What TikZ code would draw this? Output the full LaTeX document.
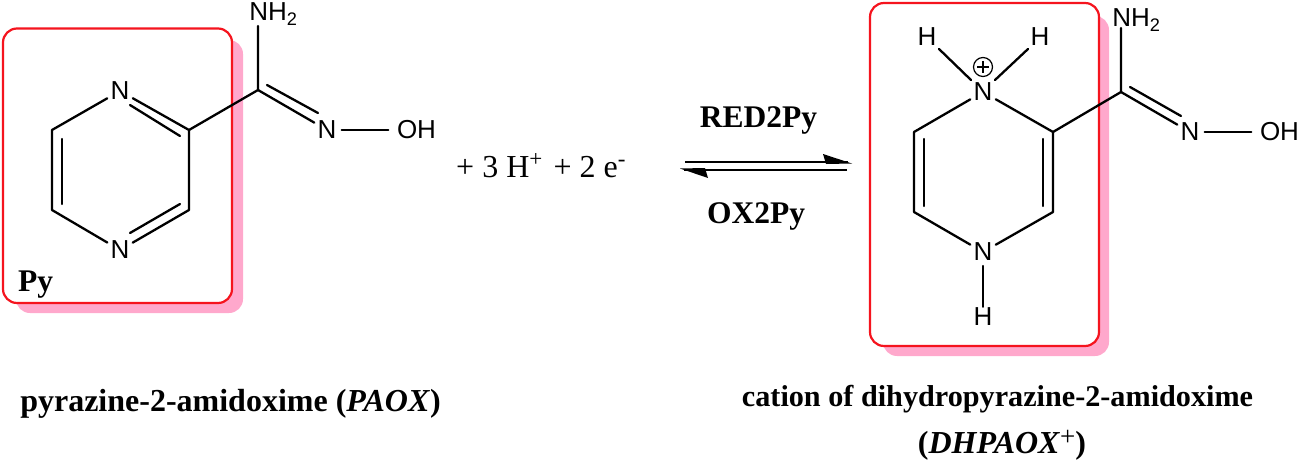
\documentclass[tikz,border=0pt]{standalone}
\usepackage{fontspec}
\setmainfont{Liberation Serif}
\newfontfamily\atomfont{Liberation Sans}
\definecolor{boxred}{HTML}{F5141E}
\definecolor{boxpink}{HTML}{FFA8CC}
\newcommand{\supchar}[3]{\raisebox{#2}{\fontsize{#1}{#1}\selectfont #3}}
\tikzset{
  x=1pt,y=-1pt,
  bond/.style={line width=2.3pt,line cap=round,line join=round,black},
  atom/.style={circle,inner sep=0pt,minimum size=29pt,font=\atomfont\fontsize{26}{30}\selectfont,text=black},
  label atom/.style={inner sep=0pt,font=\atomfont\fontsize{26}{30}\selectfont,text=black},
  oh/.style={label atom,minimum width=56pt,minimum height=20pt},
  serif/.style={inner sep=0pt,font=\fontsize{32}{36}\selectfont,text=black},
  bold/.style={inner sep=0pt,font=\bfseries\fontsize{31.5}{36}\selectfont,text=black},
  capone/.style={inner sep=0pt,font=\bfseries\fontsize{32}{36}\selectfont,text=black},
  captwo/.style={inner sep=0pt,font=\bfseries\fontsize{30.2}{36}\selectfont,text=black},
  redbox/.style={draw=boxred,line width=2.2pt,fill=white,rounded corners=14pt},
  pinkbox/.style={fill=boxpink,rounded corners=14pt},
  arrowline/.style={line width=2.7pt,black},
  barb/.style={fill=black,draw=none},
}
\begin{document}
\begin{tikzpicture}
\useasboundingbox (0,0) rectangle (1299,460);
% boxes
\fill[pinkbox] (16,40) rectangle (243,313);
\draw[redbox] (3,28.5) rectangle (232,303);
\fill[pinkbox] (883,16) rectangle (1109,356);
\draw[redbox] (870,3) rectangle (1099,346);

% left molecule
\node[atom] (ln1) at (120,91) {N};
\node[atom] (ln4) at (120,250) {N};
\node[atom] (lno) at (327,130) {N};
\node[oh] (loh) at (416.5,130) {OH};
\node[label atom] (lnh) at (273.5,14) {NH\textsubscript{2}};
\node[bold,anchor=base west] (py) at (18,291.5) {Py};
\coordinate (lc2) at (189,130);
\coordinate (lc3) at (189,210);
\coordinate (lc5) at (52,210);
\coordinate (lc6) at (52,130);
\coordinate (lc7) at (258,90);
\coordinate (lnhb) at (258,26);
\coordinate (li1a) at (130,105); \coordinate (li1b) at (180,136);
\coordinate (li2a) at (180,204); \coordinate (li2b) at (130,233);
\coordinate (li3a) at (62,139);  \coordinate (li3b) at (62,204);
\coordinate (li4a) at (267,85);  \coordinate (li4b) at (318,113);
\draw[bond] (ln1) -- (lc2) -- (lc3) -- (ln4) -- (lc5) -- (lc6) -- (ln1);
\draw[bond] (li1a) -- (li1b);
\draw[bond] (li2a) -- (li2b);
\draw[bond] (li3a) -- (li3b);
\draw[bond] (lc2) -- (lc7) -- (lnhb);
\draw[bond] (lc7) -- (lno);
\draw[bond] (li4a) -- (li4b);
\draw[bond] (lno) -- (loh);

% reagents
\node[serif,anchor=base west] (reag) at (456,177.5) {+ 3 H\supchar{23}{11pt}{+}\hspace{0.35em}+ 2 e\supchar{23}{11pt}{-}};
\node[bold,anchor=base] (red) at (758.5,127) {RED2Py};
\node[bold,anchor=base] (ox) at (756,223) {OX2Py};

% equilibrium arrows
\coordinate (a1s) at (685,162); \coordinate (a1e) at (848,162);
\coordinate (a1t) at (852,163.5); \coordinate (a1b) at (823,154); \coordinate (a1c) at (826,164);
\coordinate (a2s) at (847,170); \coordinate (a2e) at (684,170);
\coordinate (a2t) at (680,168.5); \coordinate (a2b) at (708,178); \coordinate (a2c) at (705,168);
\draw[arrowline] (a1s) -- (a1e);
\fill[barb] (a1t) -- (a1b) -- (a1c) -- cycle;
\draw[arrowline] (a2s) -- (a2e);
\fill[barb] (a2t) -- (a2b) -- (a2c) -- cycle;

% right molecule
\node[atom] (rn1) at (983,92) {N};
\node[atom] (rn4) at (983,252) {N};
\node[atom] (rno) at (1190,132) {N};
\node[oh] (roh) at (1279.5,132) {OH};
\node[label atom] (rnh) at (1136.5,20) {NH\textsubscript{2}};
\node[atom] (rh1) at (927,37) {H};
\node[atom] (rh2) at (1040,37) {H};
\node[label atom,minimum height=20pt] (rh3) at (983,317) {H};
\node[circle,draw=black,line width=1.2pt,inner sep=0pt,minimum size=19pt] (plus) at (983,67) {};
\coordinate (rpl) at (977,67); \coordinate (rpr) at (989,67);
\coordinate (rpt) at (983,61); \coordinate (rpb) at (983,73);
\draw[line width=1.2pt] (rpl) -- (rpr);
\draw[line width=1.2pt] (rpt) -- (rpb);
\coordinate (rc2) at (1053,132);
\coordinate (rc3) at (1053,212);
\coordinate (rc5) at (914,212);
\coordinate (rc6) at (914,132);
\coordinate (rc7) at (1121,92);
\coordinate (rnhb) at (1121,28);
\coordinate (ri1a) at (1043,139); \coordinate (ri1b) at (1043,206);
\coordinate (ri2a) at (924,139);  \coordinate (ri2b) at (924,206);
\coordinate (ri3a) at (1130,87);  \coordinate (ri3b) at (1181,116);
\coordinate (rn1l) at (971,80); \coordinate (rn1r) at (995,80);
\coordinate (rh1b) at (939,49); \coordinate (rh2b) at (1028,49);
\coordinate (rn4b) at (983,266);
\draw[bond] (rn1) -- (rc2) -- (rc3) -- (rn4) -- (rc5) -- (rc6) -- (rn1);
\draw[bond] (ri1a) -- (ri1b);
\draw[bond] (ri2a) -- (ri2b);
\draw[bond] (rc2) -- (rc7) -- (rnhb);
\draw[bond] (rc7) -- (rno);
\draw[bond] (ri3a) -- (ri3b);
\draw[bond] (rno) -- (roh);
\draw[bond] (rh1b) -- (rn1l);
\draw[bond] (rh2b) -- (rn1r);
\draw[bond] (rn4b) -- (rh3);

% captions
\node[capone,anchor=base] (cap1) at (230.5,411.5) {pyrazine-2-amidoxime (\textit{PAOX})};
\node[captwo,anchor=base] (cap2) at (997.5,406) {cation of dihydropyrazine-2-amidoxime};
\node[capone,anchor=base] (cap3) at (1002,453.5) {(\textit{DHPAOX}\supchar{27}{8pt}{\mdseries +})};
\end{tikzpicture}
\end{document}
